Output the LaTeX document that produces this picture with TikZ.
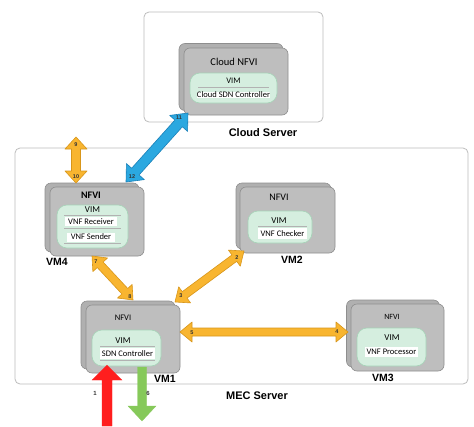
\documentclass[tikz,border=0pt]{standalone}
\usepackage{fontspec}
\setmainfont{Carlito}
\newfontfamily\hfont{Liberation Sans}
\usetikzlibrary{calc}
\definecolor{vmfill}{HTML}{BEBEBE}
\definecolor{vmbackc}{HTML}{B0B0B0}
\definecolor{vmline}{HTML}{8E8E8E}
\definecolor{gfill}{HTML}{D5EEDF}
\definecolor{gline}{HTML}{A6D4B8}
\definecolor{ofill}{HTML}{F8B530}
\definecolor{oline}{HTML}{D8961A}
\definecolor{bfill}{HTML}{2BA8E0}
\definecolor{bline}{HTML}{1A80B8}
\definecolor{rfill}{HTML}{FF1E1E}
\definecolor{lgfill}{HTML}{86C95A}
\definecolor{srvline}{HTML}{BDBDBD}
\newcommand\fatdouble[6]{%
  \coordinate (fa1) at ($(#1)!#3!(#2)$);
  \coordinate (fa2) at ($(#2)!#3!(#1)$);
  \draw[#6] (#1) -- ($(fa1)!#4!90:(#2)$) -- ($(fa1)!#5!90:(#2)$)
    -- ($(fa2)!#5!-90:(#1)$) -- ($(fa2)!#4!-90:(#1)$) -- (#2)
    -- ($(fa2)!#4!90:(#1)$) -- ($(fa2)!#5!90:(#1)$)
    -- ($(fa1)!#5!-90:(#2)$) -- ($(fa1)!#4!-90:(#2)$) -- cycle;}
\newcommand\fatsingle[6]{%
  \coordinate (fa2) at ($(#2)!#3!(#1)$);
  \draw[#6] ($(#1)!#5!90:(#2)$) -- ($(fa2)!#5!-90:(#1)$) -- ($(fa2)!#4!-90:(#1)$)
    -- (#2) -- ($(fa2)!#4!90:(#1)$) -- ($(fa2)!#5!90:(#1)$)
    -- ($(#1)!#5!-90:(#2)$) -- cycle;}
\tikzset{
  srv/.style={draw=srvline, line width=0.8pt, rounded corners=5pt},
  vmfront/.style={draw=vmline, fill=vmfill, line width=0.6pt, rounded corners=6pt, inner sep=0pt},
  vmbk/.style={draw=vmline, fill=vmbackc, line width=0.6pt, rounded corners=6pt, inner sep=0pt},
  vim/.style={draw=gline, fill=gfill, line width=0.6pt, rounded corners=10pt, inner sep=0pt},
  vnf/.style={fill=white, inner sep=0pt, font=\fontsize{8.5}{9}\selectfont},
  sepl/.style={draw=gray!60, line width=0.4pt},
  txt/.style={inner sep=0pt, font=\fontsize{#1}{#1}\selectfont},
  srvlbl/.style={inner sep=0pt, font=\hfont\bfseries\fontsize{11}{12}\selectfont},
  vmlbl/.style={inner sep=0pt, font=\hfont\bfseries\fontsize{10.5}{11}\selectfont},
  alb/.style={inner sep=0pt, text=black!80, font=\hfont\bfseries\fontsize{5.5}{6}\selectfont},
  oarrow/.style={fill=ofill, draw=oline, line width=0.6pt, line join=round},
  barrow/.style={fill=bfill, draw=bline, line width=0.6pt, line join=round},
  rarrow/.style={fill=rfill, draw=rfill, line width=0.3pt},
  garrow/.style={fill=lgfill, draw=lgfill, line width=0.3pt},
}
\begin{document}
\begin{tikzpicture}[x=1pt, y=-1pt]
\useasboundingbox[fill=white] (0,0) rectangle (474,426);
% servers
\node[srv, minimum width=179pt, minimum height=110pt] (cloudsrv) at (233.5,67) {};
\node[srvlbl] (cloudsrvlbl) at (263,133) {Cloud Server};
\node[srv, minimum width=453pt, minimum height=236pt] (mecsrv) at (241.5,266) {};
\node[srvlbl] (mecsrvlbl) at (257,396) {MEC Server};

% Cloud NFVI
\node[vmbk, minimum width=104pt, minimum height=67pt] (cloudb) at (231,77) {};
\node[vmfront, minimum width=104pt, minimum height=67pt] (cloud) at (236,81.5) {};
\node[txt=10.5] (cloudt) at (234,62) {Cloud NFVI};
\node[vim, minimum width=87pt, minimum height=30pt] (cloudg) at (233.5,88) {};
\node[txt=8.5] (cloudvim) at (233.5,81) {VIM};
\draw[sepl] (198,87) -- (269,87);
\node[vnf] (cloudsdn) at (233.5,95) {Cloud SDN Controller};

% VM4
\node[vmbk, minimum width=94pt, minimum height=69pt] (vm4b) at (92,217.5) {};
\node[vmfront, minimum width=94pt, minimum height=69pt] (vm4) at (97,221.5) {};
\node[txt=10, font=\bfseries\fontsize{10}{10}\selectfont] (vm4t) at (91,195) {NFVI};
\node[vim, minimum width=71pt, minimum height=43pt] (vm4g) at (92.5,226.5) {};
\node[txt=9] (vm4vim) at (92.5,209.5) {VIM};
\draw[sepl] (64,215) -- (121,215);
\node[vnf, minimum width=52pt, minimum height=9pt] (vm4r) at (91,221.5) {VNF Receiver};
\draw[sepl] (64,228.5) -- (121,228.5);
\node[vnf, minimum width=48pt, minimum height=9pt] (vm4s) at (91,237) {VNF Sender};
\draw[sepl] (64,243.5) -- (121,243.5);
\node[vmlbl] (vm4l) at (57,262) {VM4};

% VM2
\node[vmbk, minimum width=95pt, minimum height=66pt] (vm2b) at (283.5,216) {};
\node[vmfront, minimum width=95pt, minimum height=66pt] (vm2) at (287.5,220) {};
\node[txt=10] (vm2t) at (279,197) {NFVI};
\node[vim, minimum width=64pt, minimum height=32pt] (vm2g) at (280,227) {};
\node[txt=9] (vm2vim) at (279,220.5) {VIM};
\draw[sepl] (258,226) -- (307,226);
\node[vnf, minimum width=49pt, minimum height=11pt] (vm2c) at (282.5,233.5) {VNF Checker};
\node[vmlbl] (vm2l) at (292,260) {VM2};

% VM1
\node[vmbk, minimum width=94pt, minimum height=68pt] (vm1b) at (128,335) {};
\node[vmfront, minimum width=94pt, minimum height=68pt] (vm1) at (133,339) {};
\node[txt=8.5] (vm1t) at (123,318) {NFVI};
\node[vim, minimum width=69pt, minimum height=36pt] (vm1g) at (126.5,348) {};
\node[txt=9] (vm1vim) at (123,341) {VIM};
\draw[sepl] (100,346.5) -- (155,346.5);
\node[vnf, minimum width=55pt, minimum height=11pt] (vm1c) at (127.5,353.5) {SDN Controller};
\draw[sepl] (100,360) -- (155,360);
\node[vmlbl] (vm1l) at (165,379) {VM1};

% VM3
\node[vmbk, minimum width=93pt, minimum height=67pt] (vm3b) at (393,333.5) {};
\node[vmfront, minimum width=93pt, minimum height=67pt] (vm3) at (397.5,337.5) {};
\node[txt=8] (vm3t) at (392,317) {NFVI};
\node[vim, minimum width=69pt, minimum height=38pt] (vm3g) at (391.5,347) {};
\node[txt=9] (vm3vim) at (392,338) {VIM};
\node[vnf, minimum width=53pt, minimum height=10pt] (vm3c) at (391.5,352) {VNF Processor};
\node[vmlbl] (vm3l) at (383,378) {VM3};

% arrow end points
\coordinate (p9) at (76,137);
\coordinate (p10) at (76,183);
\coordinate (p11) at (188,113);
\coordinate (p12) at (126,182);
\coordinate (p7) at (92,256);
\coordinate (p8) at (133,300);
\coordinate (p2) at (244,251);
\coordinate (p3) at (175,302);
\coordinate (p5) at (180,332);
\coordinate (p4) at (348,332);
\coordinate (r0) at (107,426);
\coordinate (r1) at (107,365);
\coordinate (g0) at (142,367);
\coordinate (g1) at (142,421);

\fatdouble{p9}{p10}{12pt}{11pt}{4.5pt}{oarrow}
\fatdouble{p11}{p12}{14pt}{12pt}{5pt}{barrow}
\fatdouble{p7}{p8}{12pt}{10pt}{4pt}{oarrow}
\fatdouble{p2}{p3}{12pt}{10pt}{4pt}{oarrow}
\fatdouble{p5}{p4}{12pt}{10pt}{4pt}{oarrow}
\fatsingle{r0}{r1}{15pt}{15pt}{5pt}{rarrow}
\fatsingle{g0}{g1}{15pt}{14pt}{4.5pt}{garrow}

% arrow labels
\node[alb] (l9) at (76,145) {9};
\node[alb] (l10) at (76,177) {10};
\node[alb] (l11) at (179,118) {11};
\node[alb] (l12) at (132,177) {12};
\node[alb] (l7) at (96,262) {7};
\node[alb] (l8) at (130,297) {8};
\node[alb] (l3) at (181,296) {3};
\node[alb] (l2) at (237,258) {2};
\node[alb] (l5) at (192,333) {5};
\node[alb] (l4) at (337,332) {4};
\node[alb, font=\hfont\bfseries\fontsize{6}{6}\selectfont] (l1) at (95,393) {1};
\node[alb, font=\hfont\bfseries\fontsize{6}{6}\selectfont] (l6) at (148,393) {6};
\end{tikzpicture}
\end{document}
